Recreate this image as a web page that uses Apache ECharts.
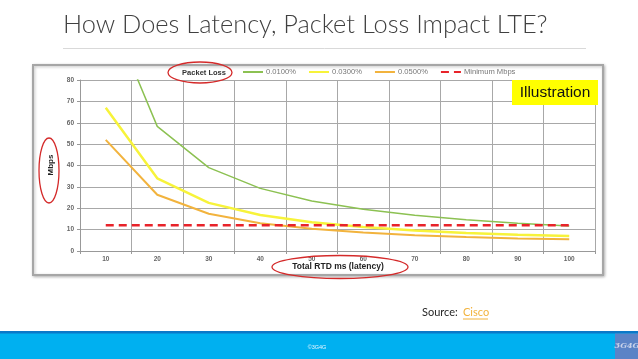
<!DOCTYPE html>
<html>
<head>
<meta charset="utf-8">
<script src="https://cdn.jsdelivr.net/npm/echarts@6/dist/echarts.min.js"></script>
<style>
html,body{margin:0;padding:0;background:#fff;}
#c{width:638px;height:359px;}
</style>
</head>
<body>
<div id="c"></div>
<script>
const categories = ['10','20','30','40','50','60','70','80','90','100'];
const loss0100 = [116, 58.3, 39, 29.3, 23.4, 19.5, 16.7, 14.6, 13, 11.7];
const loss0300 = [67, 34, 22.5, 16.8, 13.4, 11.2, 9.6, 8.4, 7.6, 7];
const loss0500 = [52, 26.3, 17.4, 13, 10.4, 8.7, 7.4, 6.5, 5.9, 5.5];
const minimumMbps = [12, 12, 12, 12, 12, 12, 12, 12, 12, 12];
const seriesNames = ['0.0100%', '0.0300%', '0.0500%', 'Minimum Mbps'];
const yTicks = { min: 0, max: 80, interval: 10 };

const chart = echarts.init(document.getElementById('c'), null, {renderer: 'canvas'});
const sansFont = 'Liberation Sans, Arial, sans-serif';
const option = {
  backgroundColor: '#ffffff',
  animation: false,
  grid: { left: 80, top: 80, width: 515, height: 171, containLabel: false },
  legend: {
    left: 242, top: 68, padding: 0,
    itemWidth: 20, itemHeight: 8, itemGap: 12,
    itemStyle: { opacity: 0 },
    textStyle: { fontFamily: sansFont, fontSize: 7.6, color: '#777', padding: [0,0,0,-2] },
    data: seriesNames
  },
  xAxis: {
    type: 'category',
    data: categories,
    boundaryGap: true,
    axisLine: { show: true, lineStyle: { color: '#999', width: 1 } },
    axisTick: { show: true, length: 3, lineStyle: { color: '#999' } },
    axisLabel: { fontFamily: sansFont, fontSize: 6.5, fontWeight: 'bold', color: '#666', margin: 5 },
    splitLine: { show: true, lineStyle: { color: '#a8a8a8', width: 1 } }
  },
  yAxis: {
    type: 'value',
    min: yTicks.min, max: yTicks.max, interval: yTicks.interval,
    axisLine: { show: true, lineStyle: { color: '#999', width: 1 } },
    axisTick: { show: true, length: 3, lineStyle: { color: '#999' } },
    axisLabel: { fontFamily: sansFont, fontSize: 6.5, fontWeight: 'bold', color: '#666', margin: 6 },
    splitLine: { show: true, lineStyle: { color: '#a8a8a8', width: 1 } }
  },
  series: [
    { name: seriesNames[0], type: 'line', data: loss0100, symbol: 'none', smooth: false,
      lineStyle: { color: '#8cc152', width: 1.5 }, itemStyle: { color: '#8cc152' }, z: 3 },
    { name: seriesNames[1], type: 'line', data: loss0300, symbol: 'none',
      lineStyle: { color: '#f7f33a', width: 2.5 }, itemStyle: { color: '#f7f33a' }, z: 3 },
    { name: seriesNames[2], type: 'line', data: loss0500, symbol: 'none',
      lineStyle: { color: '#f2b33d', width: 2 }, itemStyle: { color: '#f2b33d' }, z: 3 },
    { name: seriesNames[3], type: 'line', data: minimumMbps, symbol: 'none',
      lineStyle: { color: '#e8232a', width: 2.5, type: [8, 5] }, itemStyle: { color: '#e8232a' }, z: 4 }
  ],
  graphic: [
    // title
    { type: 'text', left: 63, top: 12, z: 10,
      style: { text: 'How Does Latency, Packet Loss Impact LTE?', fontFamily: 'Lato, Open Sans, sans-serif', fontWeight: 300, fontSize: 25.4, fill: '#404040' } },
    { type: 'line', z: 10, shape: { x1: 63, y1: 48.5, x2: 586, y2: 48.5 }, style: { stroke: '#d9d9d9', lineWidth: 1 } },
    // chart frame
    { type: 'rect', z: -1, shape: { x: 33, y: 65, width: 570, height: 210 },
      style: { fill: '#ffffff', stroke: '#a6a6a6', lineWidth: 2, shadowBlur: 3, shadowColor: 'rgba(0,0,0,0.25)', shadowOffsetX: 1, shadowOffsetY: 1 } },
    // Packet Loss label + ellipse
    { type: 'text', z: 10, x: 204, y: 72.5,
      style: { text: 'Packet Loss', fontFamily: sansFont, fontWeight: 'bold', fontSize: 7.5, fill: '#333', align: 'center', verticalAlign: 'middle' } },
    { type: 'ellipse', z: 10, shape: { cx: 200, cy: 72.5, rx: 32, ry: 10.5 }, style: { fill: 'none', stroke: '#d42a2a', lineWidth: 1.3 } },
    // Mbps label + ellipse
    { type: 'text', z: 10, x: 51, y: 165, rotation: Math.PI / 2,
      style: { text: 'Mbps', fontFamily: sansFont, fontWeight: 'bold', fontSize: 8, fill: '#222', align: 'center', verticalAlign: 'middle' } },
    { type: 'ellipse', z: 10, shape: { cx: 49, cy: 170.5, rx: 10, ry: 32.5 }, style: { fill: 'none', stroke: '#d42a2a', lineWidth: 1.3 } },
    // X axis name + ellipse
    { type: 'text', z: 10, x: 338, y: 267,
      style: { text: 'Total RTD ms (latency)', fontFamily: sansFont, fontWeight: 'bold', fontSize: 8.5, fill: '#222', align: 'center', verticalAlign: 'middle' } },
    { type: 'ellipse', z: 10, shape: { cx: 340, cy: 267, rx: 68, ry: 11.5 }, style: { fill: 'none', stroke: '#d42a2a', lineWidth: 1.3 } },
    // Illustration box
    { type: 'rect', z: 10, shape: { x: 512, y: 80, width: 86, height: 25 }, style: { fill: '#ffff00' } },
    { type: 'text', z: 11, x: 555, y: 93,
      style: { text: 'Illustration', fontFamily: sansFont, fontSize: 15.5, fill: '#111', align: 'center', verticalAlign: 'middle' } },
    // Source
    { type: 'text', z: 10, x: 422, y: 312,
      style: { text: 'Source:', fontFamily: 'Lato, Open Sans, sans-serif', fontSize: 11, fill: '#262626', verticalAlign: 'middle' } },
    { type: 'text', z: 10, x: 463, y: 312,
      style: { text: 'Cisco', fontFamily: 'Lato, Open Sans, sans-serif', fontSize: 11, fill: '#f2b33d', verticalAlign: 'middle' } },
    { type: 'line', z: 10, shape: { x1: 463, y1: 319, x2: 488, y2: 319 }, style: { stroke: '#f2b33d', lineWidth: 1 } },
    // footer
    { type: 'rect', z: 10, shape: { x: 0, y: 332, width: 638, height: 27 }, style: { fill: '#00b0f0' } },
    { type: 'rect', z: 10, shape: { x: 0, y: 331, width: 638, height: 2.5 }, style: { fill: '#0a78c8' } },
    { type: 'rect', z: 11, shape: { x: 615, y: 333.5, width: 23, height: 25.5 }, style: { fill: '#5b83c6' } },
    { type: 'text', z: 12, x: 317, y: 347,
      style: { text: '©3G4G', fontFamily: sansFont, fontSize: 5.5, fill: '#e6f6ff', align: 'center', verticalAlign: 'middle' } },
    { type: 'text', z: 12, x: 627, y: 346,
      style: { text: '3G4G', fontFamily: 'DejaVu Serif, serif', fontStyle: 'italic', fontWeight: 'bold', fontSize: 8, fill: '#c9d3ea', align: 'center', verticalAlign: 'middle' } }
  ]
};
chart.setOption(option);
</script>
</body>
</html>
